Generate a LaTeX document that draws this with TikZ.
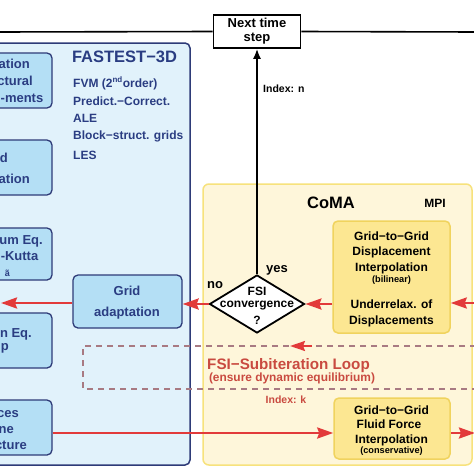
\documentclass[tikz,border=0pt]{standalone}
\usepackage{fontspec}
\setmainfont{Liberation Sans}
\usetikzlibrary{shapes.geometric,arrows.meta}
\definecolor{navy}{HTML}{2E3B78}
\definecolor{navytext}{HTML}{2A3D82}
\definecolor{bluebg}{HTML}{E1F2FB}
\definecolor{bluebox}{HTML}{B4DFF5}
\definecolor{yelbg}{HTML}{FEF6DA}
\definecolor{yelborder}{HTML}{F7E27C}
\definecolor{yelbox}{HTML}{FCE792}
\definecolor{yelboxborder}{HTML}{F0D35E}
\definecolor{redarr}{HTML}{E23A3A}
\definecolor{redtext}{HTML}{C94A40}
\definecolor{dashcol}{HTML}{A87A82}
\newcommand{\myfs}[1]{\fontsize{#1}{#1}\selectfont\bfseries}
\tikzset{
  outerblue/.style={fill=bluebg, draw=navy, line width=1.5pt, rounded corners=5pt},
  bbox/.style={fill=bluebox, draw=navy, line width=1.3pt, rounded corners=5pt},
  outeryel/.style={fill=yelbg, draw=yelborder, line width=1.5pt, rounded corners=6pt},
  ybox/.style={fill=yelbox, draw=yelboxborder, line width=1.5pt, rounded corners=5pt},
  redarrow/.style={draw=redarr, line width=2.5pt, -{Stealth[length=16pt,width=11pt,inset=2pt]}},
  tx/.style={inner sep=0pt, anchor=base},
  navyt/.style={tx, text=navytext},
}
\begin{document}
\begin{tikzpicture}[x=1pt,y=-1pt]
\useasboundingbox (0,0) rectangle (474,474);
\clip (0,0) rectangle (474,474);
\fill[white] (0,0) rectangle (474,474);

% FASTEST-3D outer box
\draw[outerblue] (-10,43) rectangle (190,465);
\node[navyt, font=\myfs{16.5}] (ftitle) at (124.5,62.3) {FASTEST−3D};
\node[navyt, anchor=base west, font=\myfs{12}] (b1) at (73,87) {FVM (2\textsuperscript{nd}order)};
\node[navyt, anchor=base west, font=\myfs{12}] (b2) at (73,105) {Predict.−Correct.};
\node[navyt, anchor=base west, font=\myfs{12}] (b3) at (73,122) {ALE};
\node[navyt, anchor=base west, font=\myfs{12}] (b4) at (73,139.5) {Block−struct. grids};
\node[navyt, anchor=base west, font=\myfs{12}] (b5) at (73,159) {LES};

% left boxes (cut by the picture edge)
\draw[bbox] (-60,53) rectangle (52,108);
\draw[bbox] (-60,140) rectangle (52,195);
\draw[bbox] (-60,228) rectangle (52,280);
\draw[bbox] (-60,313) rectangle (52,368);
\node[bbox, minimum width=112pt, minimum height=55pt, inner sep=0pt] (box5) at (-4,427.5) {};
\node[navyt, anchor=base east, font=\myfs{13}] (l11) at (30,68) {ation};
\node[navyt, anchor=base east, font=\myfs{13}] (l12) at (33,85) {ctural};
\node[navyt, anchor=base east, font=\myfs{13}] (l13) at (43.5,102) {-ments};
\node[navyt, anchor=base east, font=\myfs{13}] (l21) at (8,162) {d};
\node[navyt, anchor=base east, font=\myfs{13}] (l22) at (30,183) {ation};
\node[navyt, anchor=base east, font=\myfs{13}] (l31) at (43,244) {um Eq.};
\node[navyt, anchor=base east, font=\myfs{13}] (l32) at (38.5,260) {-Kutta};
\node[navyt, anchor=base east, font=\myfs{9}] (l33) at (10,276) {ã};
\node[navyt, anchor=base east, font=\myfs{13}] (l41) at (32,337) {n Eq.};
\node[navyt, anchor=base east, font=\myfs{13}] (l42) at (9,350) {p};
\node[navyt, anchor=base east, font=\myfs{13}] (l51) at (19,417) {ces};
\node[navyt, anchor=base east, font=\myfs{13}] (l52) at (14,433) {ne};
\node[navyt, anchor=base east, font=\myfs{13}] (l53) at (27,449) {cture};

% Grid adaptation
\node[bbox, minimum width=109pt, minimum height=53pt, inner sep=0pt] (grid) at (127.5,301.5) {};
\node[navyt, font=\myfs{13}] (g1) at (127,295) {Grid};
\node[navyt, font=\myfs{13}] (g2) at (127,316) {adaptation};

% CoMA outer box
\draw[outeryel] (203,184) rectangle (472,465);
\node[tx, font=\myfs{16.5}] (coma) at (331,208) {CoMA};
\node[tx, font=\myfs{12}] (mpi) at (435,207.5) {MPI};

% Displacement box
\node[ybox, minimum width=117pt, minimum height=112pt, inner sep=0pt] (disp) at (391.5,277) {};
\node[tx, font=\myfs{12}] (d1) at (391.5,240) {Grid−to−Grid};
\node[tx, font=\myfs{12}] (d2) at (391.5,255.5) {Displacement};
\node[tx, font=\myfs{12}] (d3) at (391.5,271) {Interpolation};
\node[tx, font=\myfs{9.2}] (d4) at (391.5,282) {(bilinear)};
\node[tx, font=\myfs{12}] (d5) at (391.5,308) {Underrelax. of};
\node[tx, font=\myfs{12}] (d6) at (391.5,324) {Displacements};

% Fluid force box
\node[ybox, minimum width=116pt, minimum height=61pt, inner sep=0pt] (ff) at (392,428.5) {};
\node[tx, font=\myfs{12}] (f1) at (391.5,414) {Grid−to−Grid};
\node[tx, font=\myfs{12}] (f2) at (389,428.5) {Fluid Force};
\node[tx, font=\myfs{12}] (f3) at (391.5,443) {Interpolation};
\node[tx, font=\myfs{9.2}] (f4) at (391.5,453) {(conservative)};

% dashed subiteration loop
\coordinate (lpA) at (476,346);
\coordinate (lpB) at (83,346);
\coordinate (lpC) at (83,389);
\coordinate (lpD) at (476,389);
\draw[dashcol, line width=1.5pt, dash pattern=on 6pt off 5pt] (lpA) -- (lpB) -- (lpC) -- (lpD);
\coordinate (lpH1) at (312,346);
\coordinate (lpH2) at (290,346);
\draw[redarr, line width=2pt, -{Stealth[length=15pt,width=10pt,inset=2pt]}] (lpH1) -- (lpH2);
\node[tx, text=redtext, font=\myfs{15.2}] (loop) at (288.5,369) {FSI−Subiteration Loop};
\node[tx, text=redtext, font=\myfs{11.9}] (ens) at (292,381.5) {(ensure dynamic equilibrium)};
\node[tx, text=redtext, font=\myfs{10.5}] (idk) at (286,403) {Index: k};

% next time step
\node[draw, fill=white, line width=1.6pt, minimum width=87pt, minimum height=33pt, inner sep=0pt,
      align=center, font=\fontsize{13}{14}\selectfont\bfseries] (ns) at (257,31.5) {Next time\\step};
\coordinate (topL) at (-2,32);
\coordinate (topR) at (476,32);
\draw[line width=1.6pt] (topL) -- (ns.west);
\draw[line width=1.6pt] (ns.east) -- (topR);

% diamond
\node[diamond, draw=black, fill=white, line width=1.8pt, minimum width=95pt, minimum height=58pt, inner sep=0pt] (dia) at (257,304) {};
\node[tx, font=\myfs{12}] (q1) at (257,295) {FSI};
\node[tx, font=\myfs{12}] (q2) at (257,307.5) {convergence};
\node[tx, font=\myfs{12}] (q3) at (257,324) {?};
\node[tx, font=\myfs{13}] (yes) at (277,272) {yes};
\node[tx, font=\myfs{13}] (no) at (215,288) {no};

\draw[line width=1.8pt, -{Latex[length=10pt,width=8pt]}] (dia.north) -- (ns.south);
\node[tx, anchor=base west, font=\myfs{10.5}] (idn) at (263,92) {Index: n};

% red arrows
\coordinate (rR1) at (476,303);
\coordinate (rL1) at (1,303);
\coordinate (rR2) at (475,433);
\coordinate (yb) at (0,433);
\draw[redarrow] (rR1) -- (disp.east |- rR1);
\draw[redarrow] (disp.west |- dia.east) -- (dia.east);
\draw[redarrow] (dia.west) -- (dia.west -| grid.east);
\draw[redarrow] (grid.west |- rL1) -- (rL1);
\draw[redarrow] (box5.east |- yb) -- (ff.west |- yb);
\draw[redarrow] (ff.east |- yb) -- (rR2);
\end{tikzpicture}
\end{document}
